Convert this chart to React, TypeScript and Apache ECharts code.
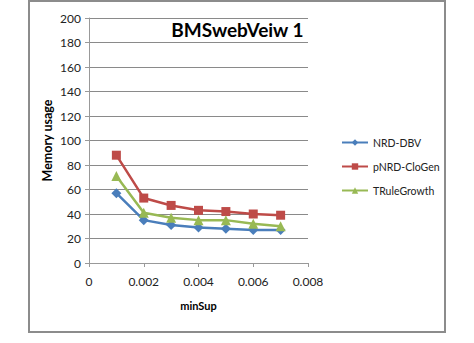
import React, { useEffect, useRef } from "react";
import * as echarts from "echarts";

const xValues = [0.001, 0.002, 0.003, 0.004, 0.005, 0.006, 0.007];
const nrdDbv = [57, 35, 31, 29, 28, 27, 27];
const pnrdCloGen = [88, 53, 47, 43, 42, 40, 39];
const tRuleGrowth = [71, 41, 37, 35, 35, 32, 30];
const seriesNames = ["NRD-DBV", "pNRD-CloGen", "TRuleGrowth"];

export default function App() {
  const ref = useRef<HTMLDivElement>(null);
  useEffect(() => {
    if (!ref.current) return;
    const chart = echarts.init(ref.current, null, { renderer: "svg" });
    const font = "Lato, 'Open Sans', sans-serif";
    const mk = (name: string, data: number[], color: string, symbol: string, size: number) => ({
      name,
      type: "line",
      data: xValues.map((x, i) => [x, data[i]]),
      symbol,
      symbolSize: size,
      itemStyle: { color },
      lineStyle: { color, width: 2.5 },
    });
    chart.setOption({
      animation: false,
      backgroundColor: "#ffffff",
      textStyle: { fontFamily: font },
      graphic: [
        {
          type: "rect",
          shape: { x: 29, y: 1, width: 416, height: 331 },
          style: { fill: "none", stroke: "#8c8c8c", lineWidth: 2 },
          silent: true,
        },
        {
          type: "text",
          right: 474 - 304,
          top: 20,
          style: { text: "BMSwebVeiw 1", fontSize: 19, fontWeight: "bold", fill: "#000", fontFamily: font },
        },
      ],
      grid: { left: 89, top: 18, right: 166, bottom: 80, containLabel: false },
      xAxis: {
        type: "value",
        min: 0,
        max: 0.008,
        interval: 0.002,
        name: "minSup",
        nameLocation: "middle",
        nameGap: 37,
        nameTextStyle: { fontSize: 11, fontWeight: "bold", color: "#000", fontFamily: font },
        axisLine: { show: true, lineStyle: { color: "#999" } },
        axisTick: { show: true, length: 4, lineStyle: { color: "#999" } },
        axisLabel: {
          fontSize: 12,
          color: "#222",
          margin: 12,
          formatter: (v: number) => (v === 0 ? "0" : v.toFixed(3)),
        },
        splitLine: { show: false },
      },
      yAxis: {
        type: "value",
        min: 0,
        max: 200,
        interval: 20,
        name: "Memory usage",
        nameLocation: "middle",
        nameGap: 35,
        nameTextStyle: { fontSize: 12.5, fontWeight: "bold", color: "#000", fontFamily: font },
        axisLine: { show: true, lineStyle: { color: "#999" } },
        axisTick: { show: true, length: 4, lineStyle: { color: "#999" } },
        axisLabel: { fontSize: 12, color: "#222", margin: 8 },
        splitLine: { show: true, lineStyle: { color: "#8a8a8a", width: 1 } },
      },
      legend: {
        orient: "vertical",
        left: 336,
        top: 132,
        itemGap: 13,
        itemWidth: 26,
        itemHeight: 8,
        data: seriesNames,
        textStyle: { fontSize: 10.5, color: "#222", fontFamily: font },
      },
      series: [
        mk(seriesNames[0], nrdDbv, "#4a7ebb", "diamond", 10),
        mk(seriesNames[1], pnrdCloGen, "#be4b48", "rect", 9),
        mk(seriesNames[2], tRuleGrowth, "#98b954", "triangle", 10),
      ],
    });
    return () => chart.dispose();
  }, []);
  return (
    <div
      ref={ref}
      style={{ position: "fixed", left: 0, top: 0, width: 474, height: 343 }}
    />
  );
}
